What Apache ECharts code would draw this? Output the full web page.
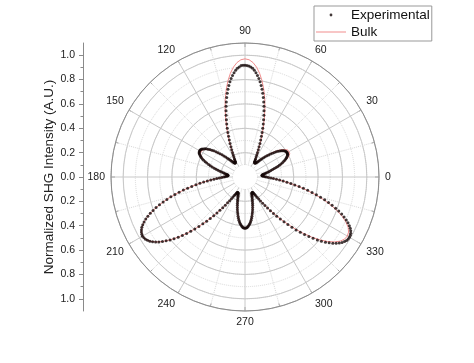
<!DOCTYPE html>
<html>
<head>
<meta charset="utf-8">
<script src="https://cdn.jsdelivr.net/npm/echarts@6/dist/echarts.min.js"></script>
<style>html,body{margin:0;padding:0;background:#fff}#c{width:474px;height:363px}</style>
</head>
<body>
<div id="c"></div>
<script>
// Experimental samples were taken every 1 degree (0..359)
const expAngles = Array.from({length: 360}, (_, i) => i);
// Experimental normalized SHG intensity, one value per degree
const experimental = [
  0.177,0.165,0.153,0.146,0.142,0.140,
  0.141,0.144,0.149,0.157,0.167,0.177,0.190,0.204,0.219,0.234,0.250,0.266,0.282,0.298,0.314,0.329,0.343,0.356,0.367,0.376,0.384,0.392,0.396,0.399,0.400,
  0.399,0.396,0.392,0.384,0.376,0.367,0.356,0.343,0.329,0.314,0.298,0.282,0.266,0.250,0.234,0.219,0.204,0.190,0.177,0.167,0.157,0.149,0.144,0.141,
  0.140,
  0.142,0.146,0.152,0.163,0.174,0.189,0.207,0.226,0.249,0.273,0.301,0.330,0.360,0.392,0.426,0.460,0.494,0.530,0.566,0.601,0.635,0.669,0.702,0.734,0.763,0.791,0.817,0.840,0.861,0.879,0.894,0.905,0.912,0.916,
  0.918,
  0.918,0.915,0.905,0.894,0.879,0.861,0.840,0.817,0.791,0.763,0.734,0.702,0.669,0.635,0.601,0.566,0.530,0.494,0.460,0.426,0.392,0.360,0.330,0.301,0.273,0.249,0.226,0.207,0.189,0.174,0.163,0.152,0.146,0.142,
  0.140,
  0.141,0.144,0.150,0.159,0.170,0.181,0.196,0.211,0.228,0.245,0.262,0.281,0.299,0.316,0.334,0.350,0.366,0.380,0.393,0.403,0.412,0.421,0.426,0.429,0.430,
  0.429,0.426,0.421,0.412,0.403,0.393,0.380,0.366,0.350,0.334,0.316,0.299,0.281,0.262,0.245,0.228,0.211,0.196,0.181,0.170,0.159,0.150,0.144,0.141,
  0.140,
  0.142,0.146,0.153,0.164,0.176,0.192,0.211,0.232,0.256,0.282,0.311,0.342,0.374,0.408,0.444,0.480,0.517,0.555,0.593,0.630,0.667,0.703,0.738,0.772,0.803,0.833,0.860,0.885,0.907,0.926,0.942,0.954,0.963,0.968,
  0.972,
  0.968,0.963,0.954,0.942,0.926,0.907,0.885,0.860,0.833,0.803,0.772,0.738,0.703,0.667,0.630,0.593,0.555,0.517,0.480,0.444,0.408,0.374,0.342,0.311,0.282,0.256,0.232,0.211,0.192,0.176,0.164,0.153,0.146,0.142,
  0.140,
  0.141,0.144,0.150,0.158,0.169,0.180,0.194,0.209,0.225,0.241,0.258,0.276,0.293,0.310,0.327,0.343,0.358,0.372,0.384,0.394,0.403,0.411,0.416,0.419,0.420,
  0.419,0.416,0.411,0.403,0.394,0.384,0.372,0.358,0.343,0.327,0.310,0.293,0.276,0.258,0.241,0.225,0.209,0.194,0.180,0.169,0.158,0.150,0.144,0.141,
  0.140,
  0.142,0.146,0.153,0.165,0.177,0.193,0.213,0.234,0.259,0.285,0.315,0.347,0.380,0.414,0.451,0.488,0.526,0.565,0.604,0.642,0.680,0.717,0.752,0.787,0.819,0.850,0.877,0.903,0.925,0.945,0.961,0.974,0.983,0.988,
  0.990,
  0.988,0.983,0.974,0.961,0.945,0.925,0.903,0.877,0.850,0.819,0.787,0.752,0.717,0.680,0.642,0.604,0.565,0.526,0.488,0.451,0.414,0.380,0.347,0.315,0.285,0.259,0.234,0.213,0.193
];
// Bulk model curve, sampled every 2 degrees
const bulkAngles = [
  0,2,4,6,8,10,12,14,16,18,20,22,24,26,28,
  30,32,34,36,38,40,42,44,46,48,50,52,54,56,58,
  60,62,64,66,68,70,72,74,76,78,80,82,84,86,88,
  90,92,94,96,98,100,102,104,106,108,110,112,114,116,118,
  120,122,124,126,128,130,132,134,136,138,140,142,144,146,148,
  150,152,154,156,158,160,162,164,166,168,170,172,174,176,178,
  180,182,184,186,188,190,192,194,196,198,200,202,204,206,208,
  210,212,214,216,218,220,222,224,226,228,230,232,234,236,238,
  240,242,244,246,248,250,252,254,256,258,260,262,264,266,268,
  270,272,274,276,278,280,282,284,286,288,290,292,294,296,298,
  300,302,304,306,308,310,312,314,316,318,320,322,324,326,328,
  330,332,334,336,338,340,342,344,346,348,350,352,354,356,358
];
const bulk = [
  0.176,0.153,0.142,0.141,0.150,0.169,0.194,0.225,0.258,0.293,0.327,0.358,0.384,0.403,0.416,
  0.420,0.416,0.403,0.384,0.358,0.327,0.293,0.258,0.225,0.194,0.169,0.150,0.141,0.142,0.153,
  0.176,0.211,0.256,0.311,0.374,0.444,0.517,0.593,0.667,0.738,0.803,0.860,0.907,0.942,0.963,
  0.970,0.963,0.942,0.907,0.860,0.803,0.738,0.667,0.593,0.517,0.444,0.374,0.311,0.256,0.211,
  0.176,0.153,0.142,0.141,0.150,0.169,0.194,0.225,0.258,0.293,0.327,0.358,0.384,0.403,0.416,
  0.420,0.416,0.403,0.384,0.358,0.327,0.293,0.258,0.225,0.194,0.169,0.150,0.141,0.142,0.153,
  0.176,0.211,0.256,0.311,0.374,0.444,0.517,0.593,0.667,0.738,0.803,0.860,0.907,0.942,0.963,
  0.970,0.963,0.942,0.907,0.860,0.803,0.738,0.667,0.593,0.517,0.444,0.374,0.311,0.256,0.211,
  0.176,0.153,0.142,0.141,0.150,0.169,0.194,0.225,0.258,0.293,0.327,0.358,0.384,0.403,0.416,
  0.420,0.416,0.403,0.384,0.358,0.327,0.293,0.258,0.225,0.194,0.169,0.150,0.141,0.142,0.153,
  0.176,0.211,0.256,0.311,0.374,0.444,0.517,0.593,0.667,0.738,0.803,0.860,0.907,0.942,0.963,
  0.970,0.963,0.942,0.907,0.860,0.803,0.738,0.667,0.593,0.517,0.444,0.374,0.311,0.256,0.211
];
const seriesNames = ['Experimental', 'Bulk'];
const yTickLabels = [-1.0,-0.8,-0.6,-0.4,-0.2,0.0,0.2,0.4,0.6,0.8,1.0];
const yMinorTicks = [-0.9,-0.7,-0.5,-0.3,-0.1,0.1,0.3,0.5,0.7,0.9];
const angleTickStep = 30;

const expData = expAngles.map((a, i) => [experimental[i], a]);
const bulkData = bulkAngles.map((a, i) => [bulk[i], a]);
bulkData.push([bulk[0], 360]);

const CX = 245, CY = 177, R = 134;
const font = 'Liberation Sans, Arial, sans-serif';
const PINK = '#f08c8c';

const chart = echarts.init(document.getElementById('c'), null, {renderer: 'canvas'});
chart.setOption({
  animation: false,
  backgroundColor: '#fff',
  textStyle: {fontFamily: font},
  legend: {
    orient: 'vertical', left: 314, top: 6,
    itemWidth: 30, itemHeight: 14, itemGap: 3,
    padding: [2, 2, 2, 2],
    backgroundColor: '#fff', borderColor: '#999', borderWidth: 1,
    textStyle: {fontSize: 13.5, color: '#111', fontFamily: font},
    data: [
      {name: seriesNames[0], icon: 'path://M0,0M30,14M13.6,7a1.4,1.4 0 1,0 2.8,0a1.4,1.4 0 1,0 -2.8,0Z'},
      {name: seriesNames[1], icon: 'path://M0,0M30,14M0,6.5L30,6.5L30,7.5L0,7.5Z', itemStyle: {color: PINK}}
    ]
  },
  grid: {left: 83, top: CY - R, height: 2 * R, width: 1},
  xAxis: {type: 'value', show: false},
  yAxis: [{
    type: 'value', min: -1.1, max: 1.1, position: 'left',
    axisLine: {show: true, lineStyle: {color: '#8a8a8a', width: 1}},
    axisTick: {show: true, length: 4, customValues: yTickLabels, lineStyle: {color: '#8a8a8a'}},
    axisLabel: {customValues: yTickLabels, fontSize: 10.5, color: '#222', margin: 8,
      formatter: v => Math.abs(v).toFixed(1)},
    splitLine: {show: false},
    name: 'Normalized SHG Intensity (A.U.)', nameLocation: 'middle', nameGap: 27,
    nameTextStyle: {fontSize: 13.5, color: '#222', fontFamily: font}
  }, {
    type: 'value', min: -1.1, max: 1.1, position: 'left',
    axisLine: {show: false},
    axisTick: {show: true, length: 2.5, customValues: yMinorTicks, lineStyle: {color: '#8a8a8a'}},
    axisLabel: {show: false},
    splitLine: {show: false}
  }],
  polar: [
    {center: [CX, CY], radius: R},
    {center: [CX, CY], radius: R}
  ],
  angleAxis: [{
    polarIndex: 0, type: 'value', min: 0, max: 360, interval: angleTickStep,
    startAngle: 0, clockwise: false, z: 1,
    axisLine: {show: true, lineStyle: {color: '#8c8c8c', width: 1}},
    axisTick: {show: true, inside: true, length: 4, lineStyle: {color: '#8c8c8c'}},
    minorTick: {show: true, splitNumber: 2, length: 3, lineStyle: {color: '#8c8c8c'}},
    axisLabel: {margin: 6, fontSize: 10.5, color: '#222', formatter: v => (v === 360 ? '' : String(v))},
    splitLine: {show: true, lineStyle: {color: '#c8c8c8', width: 1}},
    minorSplitLine: {show: true, lineStyle: {color: '#d8d8d8', type: 'dotted', width: 1}}
  }, {
    polarIndex: 1, type: 'value', min: 0, max: 360, startAngle: 0, clockwise: false, show: false
  }],
  radiusAxis: [{
    polarIndex: 0, type: 'value', min: 0, max: 1.1, interval: 0.2, z: 1,
    axisLine: {show: false}, axisTick: {show: false}, axisLabel: {show: false},
    splitLine: {show: true, lineStyle: {color: '#c8c8c8', width: 1}}
  }, {
    polarIndex: 1, type: 'value', min: 0, max: 1.1, interval: 0.1, z: 0,
    axisLine: {show: false}, axisTick: {show: false}, axisLabel: {show: false},
    splitLine: {show: true, lineStyle: {color: '#d8d8d8', width: 1, type: 'dotted'}}
  }],
  graphic: {
    z: 1.5,
    elements: [{type: 'circle', z: 1.5, shape: {cx: CX, cy: CY, r: 12}, style: {fill: '#fff'}, silent: true}]
  },
  series: [{
    name: seriesNames[1], type: 'line', coordinateSystem: 'polar', polarIndex: 0,
    data: bulkData, symbol: 'none', showSymbol: false, smooth: false, z: 2,
    lineStyle: {color: PINK, width: 1}, itemStyle: {color: PINK}
  }, {
    name: seriesNames[0], type: 'scatter', coordinateSystem: 'polar', polarIndex: 0,
    data: expData, symbol: 'circle', symbolSize: 3, z: 3,
    itemStyle: {color: '#140808'}
  }]
});
</script>
</body>
</html>
